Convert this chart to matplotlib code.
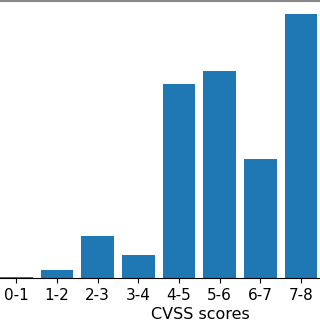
import numpy as np
import matplotlib
matplotlib.use('Agg')
import matplotlib.pyplot as plt

categories = ['0-1', '1-2', '2-3', '3-4', '4-5', '5-6', '6-7', '7-8']
counts = [1, 8, 42, 23, 194, 207, 119, 263]


def main():
    fig = plt.figure(figsize=(3.2, 3.2), dpi=100)
    # axes runs past the left/right edges, the reference is a crop
    ax = fig.add_axes([-0.049, 0.131, 1.09, 0.865])
    x = np.arange(len(categories))
    ax.bar(x, counts, color='#1f77b4')
    ax.set_xticks(x)
    ax.set_xticklabels(categories, fontsize=11)
    ax.set_xlabel('CVSS scores', fontsize=11.5)
    ax.xaxis.set_label_coords(0.618, -0.105)
    ax.set_yticks([])
    ax.spines['top'].set_color('#888888')
    ax.spines['top'].set_linewidth(1.5)
    fig.savefig('out.png', dpi=100)


main()
